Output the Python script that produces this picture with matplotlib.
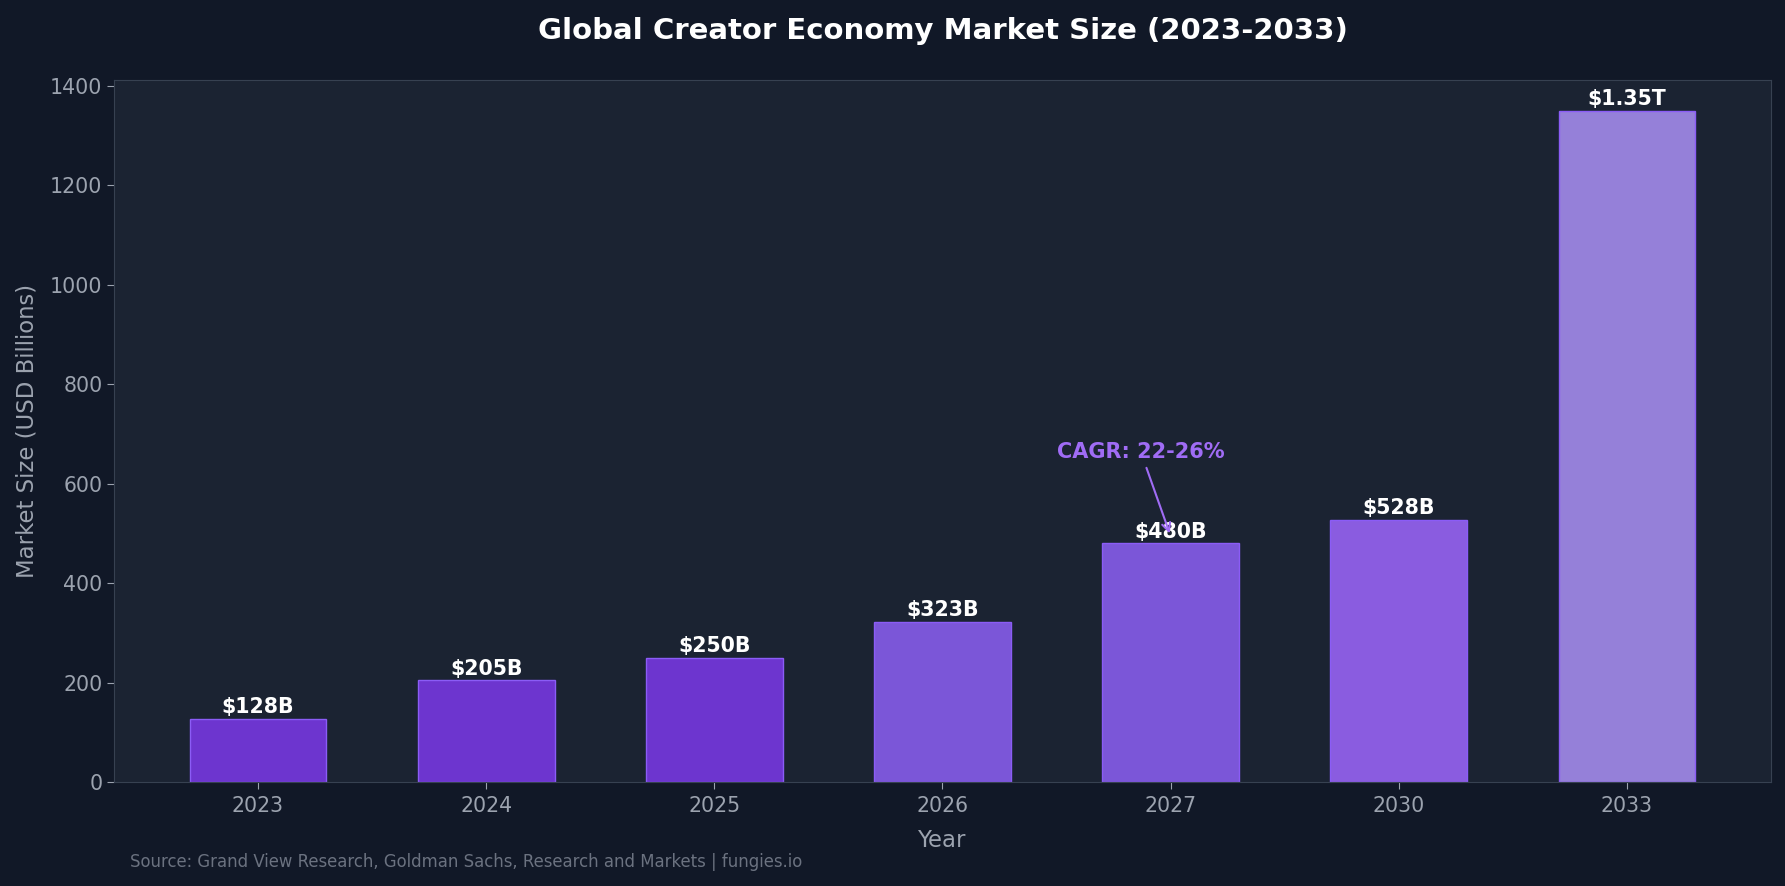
import matplotlib
matplotlib.use('Agg')
import matplotlib.pyplot as plt

# Market size data (USD billions)
years = ['2023', '2024', '2025', '2026', '2027', '2030', '2033']
values = [128, 205, 250, 323, 480, 528, 1350]
labels = ['$128B', '$205B', '$250B', '$323B', '$480B', '$528B', '$1.35T']
colors = ['#6d35cf', '#6d35cf', '#6d35cf', '#7b56d8', '#7b56d8', '#8a5ce0', '#9580d9']

fig_bg = '#111827'
ax_bg = '#1b2332'
text_muted = '#9ca3af'

fig, ax = plt.subplots(figsize=(17.85, 8.86), dpi=100)
fig.patch.set_facecolor(fig_bg)
ax.set_facecolor(ax_bg)

x = range(len(years))
bars = ax.bar(x, values, width=0.6, color=colors, edgecolor='#8b5cf6', linewidth=1)

# value labels on top of each bar
for bar, lab in zip(bars, labels):
    ax.text(bar.get_x() + bar.get_width() / 2, bar.get_height() + 3, lab,
            ha='center', va='bottom', color='white', fontsize=14.8, fontweight='bold')

ax.annotate('CAGR: 22-26%', xy=(4, 495), xytext=(3.87, 663),
            ha='center', va='center', color='#a06cf5', fontsize=15, fontweight='bold',
            arrowprops=dict(arrowstyle='->', color='#a06cf5', lw=1.5))

ax.set_xticks(list(x))
ax.set_xticklabels(years)
ax.set_ylim(0, 1412)
ax.set_xlabel('Year', color=text_muted, fontsize=16.4, labelpad=9)
ax.set_ylabel('Market Size (USD Billions)', color=text_muted, fontsize=16.4, labelpad=8)
ax.tick_params(colors=text_muted, labelsize=14.8, length=5)
ax.tick_params(axis='x', pad=5)
for s in ax.spines.values():
    s.set_color('#374151')

ax.set_title('Global Creator Economy Market Size (2023-2033)', color='white',
             fontsize=21, fontweight='bold', pad=29)
fig.text(0.073, 0.021, 'Source: Grand View Research, Goldman Sachs, Research and Markets | fungies.io',
         color='#6b7280', fontsize=11.9)

plt.subplots_adjust(left=0.064, right=0.992, top=0.91, bottom=0.117)
plt.savefig('out.png', facecolor=fig_bg)
